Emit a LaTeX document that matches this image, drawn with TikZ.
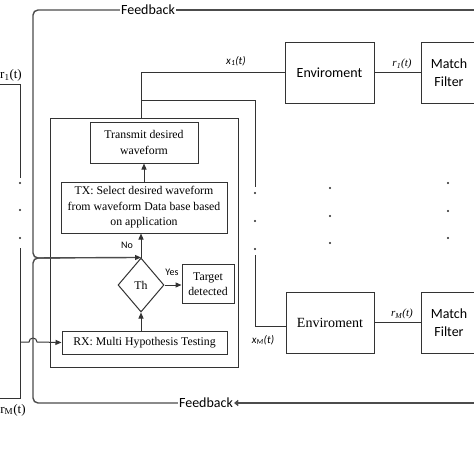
\documentclass[tikz,border=0pt]{standalone}
\usepackage{fontspec}
\setmainfont{Liberation Serif}
\newfontfamily\carl{Carlito}
\usetikzlibrary{shapes.geometric,arrows.meta}
\begin{document}
\begin{tikzpicture}[x=1pt,y=-1pt,
  ln/.style={draw=black!80, line width=1pt},
  box/.style={ln, rectangle, inner sep=2pt, align=center, font=\fontsize{11.8}{15.5}\selectfont},
  sbox/.style={ln, rectangle, inner sep=2pt, align=center, font=\carl\fontsize{14}{18.5}\selectfont},
  arr/.style={ln, -{Triangle[length=6pt,width=5pt]}},
  fbl/.style={draw=black!70, line width=1.4pt},
  fbtext/.style={inner sep=1pt, fill=white, font=\carl\fontsize{14}{16}\selectfont},
  lab/.style={inner sep=0pt, font=\fontsize{11}{13}\selectfont\itshape},
  slab/.style={inner sep=0pt, font=\carl\fontsize{11}{13}\selectfont\itshape},
  small/.style={inner sep=0pt, font=\carl\fontsize{10}{12}\selectfont},
  dot/.style={fill=black!85, circle, inner sep=0pt, minimum size=2.2pt}
]
\clip (0,0) rectangle (474,474);
\fill[white] (0,0) rectangle (474,474);

% main processing block
\node[box, minimum width=188pt, minimum height=249pt] (outer) at (144,242.5) {};
\node[box, minimum width=108pt, minimum height=41pt] (transmit) at (144,142.5) {Transmit desired\\waveform};
\node[box, minimum width=166pt, minimum height=51pt] (tx) at (144,207.5) {TX: Select desired waveform\\from waveform Data base based\\on application};
\node[ln, diamond, minimum width=46pt, minimum height=54pt, inner sep=0pt, font=\fontsize{11.8}{14}\selectfont] (th) at (141,285) {Th};
\node[box, minimum width=52pt, minimum height=39pt] (target) at (208,284) {Target\\detected};
\node[box, minimum width=165pt, minimum height=23pt] (rx) at (144.5,342.5) {RX: Multi Hypothesis Testing};

% environment and matched filters
\node[sbox, minimum width=89pt, minimum height=61pt] (env1) at (329.5,72.5) {Enviroment};
\node[sbox, minimum width=56pt, minimum height=61pt] (mf1) at (449,72.5) {Match\\Filter};
\node[box, font=\fontsize{14}{18}\selectfont, minimum width=88pt, minimum height=61pt] (env2) at (330,322.5) {Enviroment};
\node[sbox, minimum width=56pt, minimum height=61pt] (mf2) at (449,322.5) {Match\\Filter};

% internal arrows
\draw[arr] (tx.north) -- (transmit.south);
\draw[arr] (th.north) -- (th.north |- tx.south);
\draw[arr] (rx.north -| th.south) -- (th.south);
\draw[arr] (th.east) -- (target.west |- th.east);
\node[small] (no) at (127,245) {No};
\node[small] (yes) at (172,272.5) {Yes};

% transmit outputs
\coordinate (txo) at (141,118);
\coordinate (j1) at (141,100);
\coordinate (d1) at (255,187);
\coordinate (d2) at (255,255);
\draw[ln] (txo) |- (env1.west);
\draw[ln] (j1) -| (d1);
\draw[ln] (d2) |- ([yshift=-3.5pt]env2.west);
\node[slab] (x1) at (236,61) {x\textsubscript{1}(t)};
\node[slab] (xm) at (263,340) {x\textsubscript{M}(t)};

% environment to matched filters
\draw[ln] (env1.east) -- (mf1.west);
\draw[ln] (env2.east) -- (mf2.west);
\node[lab] (r1) at (402,64) {r\textsubscript{1}(t)};
\node[lab] (rm) at (402,314) {r\textsubscript{M}(t)};

% left receiver bank
\coordinate (lb1) at (-5,84);
\coordinate (lb2) at (20,178);
\coordinate (lb3) at (20,248);
\coordinate (lb4) at (-5,398);
\draw[ln] (lb1) -| (lb2);
\draw[ln] (lb3) |- (lb4);
\node[inner sep=0pt, font=\fontsize{13}{15}\selectfont] (lr1) at (11,75) {r\textsubscript{1}(t)};
\node[inner sep=0pt, font=\fontsize{13}{15}\selectfont] (lrm) at (13,410) {r\textsubscript{M}(t)};
\coordinate (rxin) at (20,342);
\draw[arr] (rxin) -- (29,342) arc (180:360:4) -- (rx.west);

% feedback paths
\node[fbtext] (fb1) at (148,10) {Feedback};
\node[fbtext] (fb2) at (206,403) {Feedback};
\coordinate (fbr1) at (480,10);
\coordinate (fbr2) at (480,403);
\coordinate (fbc) at (33,258);
\draw[fbl] (fbr1) -- (fb1.east);
\draw[fbl, rounded corners=5pt] (fb1.west) -| (fbc) -- ([xshift=-5pt]th.north);
\draw[arr] ([xshift=-6pt]th.north) -- (th.north);
\draw[fbl, -{Straight Barb[length=3pt,width=5pt]}] (fbr2) -- (fb2.east);
\draw[fbl, rounded corners=5pt] (fb2.west) -| (fbc) -- (60,258);

% continuation dots
\foreach \x/\a/\b/\c in {20/183/210/238, 255/193/221/249, 330/188/216/243, 448/183/211/238}{
  \node[dot] at (\x,\a) {};
  \node[dot] at (\x,\b) {};
  \node[dot] at (\x,\c) {};
}
\end{tikzpicture}
\end{document}
